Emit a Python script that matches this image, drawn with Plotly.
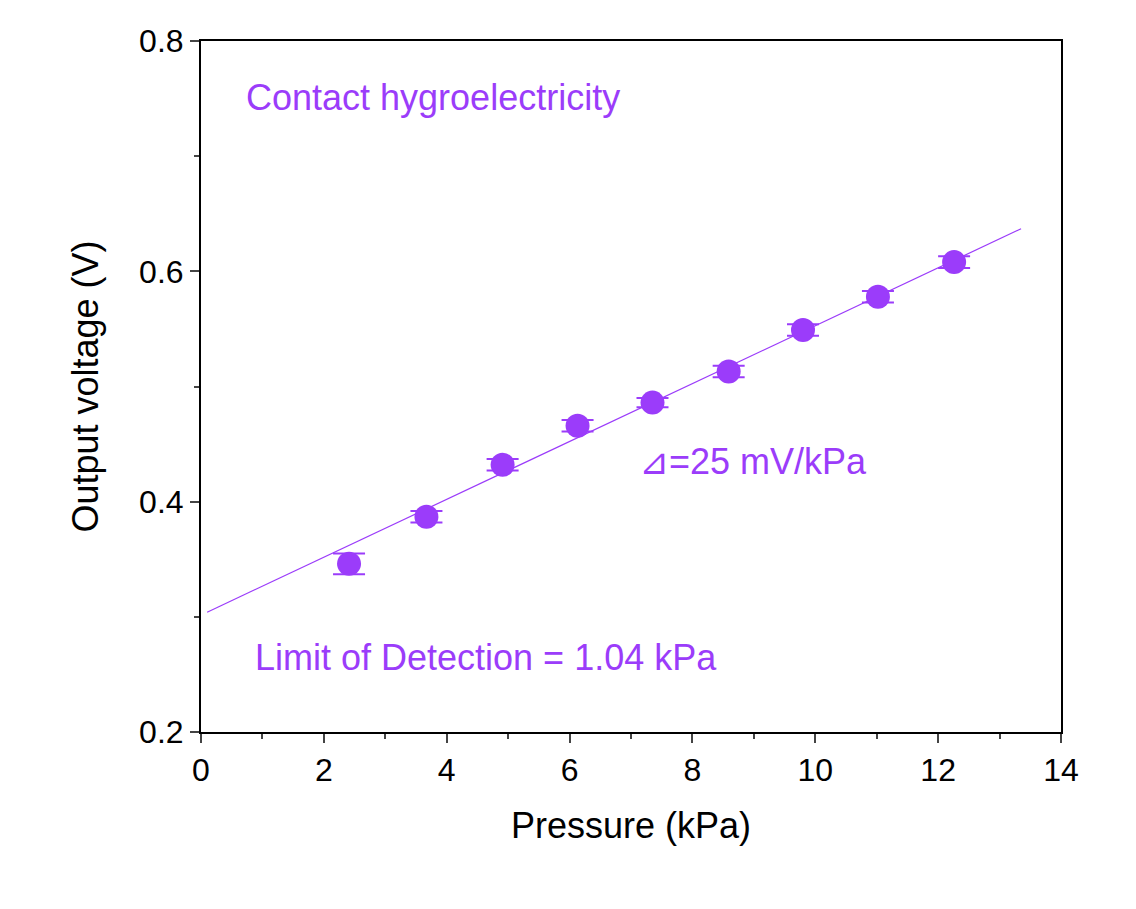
import plotly.graph_objects as go

pressure = [2.41, 3.67, 4.91, 6.13, 7.35, 8.59, 9.80, 11.02, 12.26]
voltage = [0.346, 0.387, 0.432, 0.466, 0.486, 0.513, 0.549, 0.578, 0.608]
err = [0.009, 0.005, 0.005, 0.005, 0.004, 0.005, 0.005, 0.005, 0.005]
fit_x = [0.1, 13.35]
fit_y = [0.304, 0.637]

purple = "#9B3CFA"
fnt = "Arial, Liberation Sans, sans-serif"

fig = go.Figure()
fig.add_trace(go.Scatter(x=fit_x, y=fit_y, mode="lines",
                         line=dict(color=purple, width=1.2), showlegend=False))
fig.add_trace(go.Scatter(x=pressure, y=voltage, mode="markers",
                         marker=dict(color=purple, size=24),
                         error_y=dict(type="data", array=err, color=purple,
                                      thickness=2, width=16),
                         showlegend=False))

labels = [("Contact hygroelectricity", 0.05, 0.918),
          ("⊿=25 mV/kPa", 0.507, 0.391),
          ("Limit of Detection = 1.04 kPa", 0.06, 0.108)]
for txt, ax_, ay_ in labels:
    fig.add_annotation(x=ax_, y=ay_, xref="paper", yref="paper", xanchor="left",
                       yanchor="middle", text=txt, showarrow=False,
                       font=dict(size=36, color=purple, family=fnt))

axis = dict(showline=True, linecolor="black", linewidth=2, mirror=True,
            ticks="outside", ticklen=9, tickwidth=2, showgrid=False,
            zeroline=False, tickfont=dict(size=32, family=fnt, color="black"))
fig.update_xaxes(**axis, range=[0, 14], dtick=2,
                 minor=dict(ticks="outside", ticklen=5, tickwidth=2, dtick=1),
                 title=dict(text="Pressure (kPa)", standoff=25,
                            font=dict(size=36, family=fnt, color="black")))
fig.update_yaxes(**axis, range=[0.2, 0.8], dtick=0.2, tickformat=".1f",
                 minor=dict(ticks="outside", ticklen=5, tickwidth=2, dtick=0.1),
                 title=dict(text="Output voltage (V)", standoff=30,
                            font=dict(size=36, family=fnt, color="black")))
fig.update_layout(width=1136, height=909, plot_bgcolor="white", paper_bgcolor="white",
                  margin=dict(l=193, r=83, t=33, b=185))
fig.write_html("out.html")
